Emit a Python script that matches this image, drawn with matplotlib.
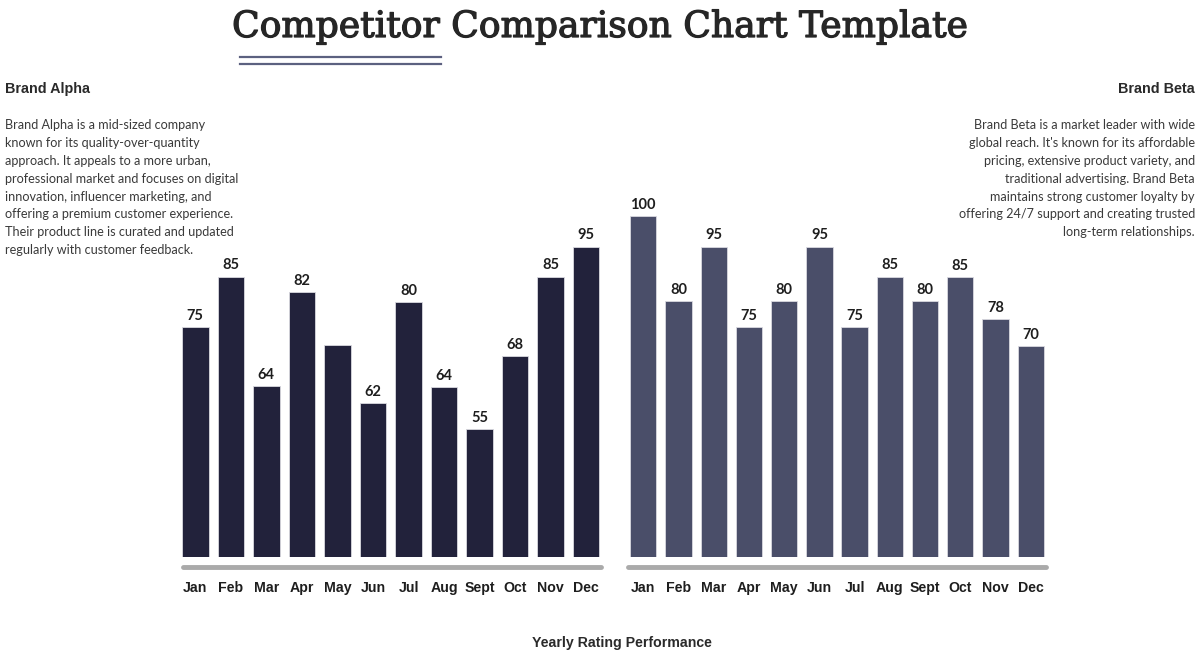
import matplotlib
matplotlib.use("Agg")
import matplotlib.pyplot as plt
import matplotlib.patheffects as pe

months = ["Jan", "Feb", "Mar", "Apr", "May", "Jun", "Jul", "Aug", "Sept", "Oct", "Nov", "Dec"]

# bar heights (tallest bar = 100)
alpha_bars = [67.3, 82.2, 50.1, 77.6, 62.1, 45.0, 74.8, 49.9, 37.4, 58.9, 82.2, 91.0]
beta_bars = [100.0, 75.0, 91.0, 67.3, 75.0, 91.0, 67.3, 82.2, 75.0, 82.0, 69.8, 61.9]

# numbers printed above the bars (May of Brand Alpha has none)
alpha_labels = [75, 85, 64, 82, None, 62, 80, 64, 55, 68, 85, 95]
beta_labels = [100, 80, 95, 75, 80, 95, 75, 85, 80, 85, 78, 70]

alpha_text = [
    "Brand Alpha is a mid-sized company",
    "known for its quality-over-quantity",
    "approach. It appeals to a more urban,",
    "professional market and focuses on digital",
    "innovation, influencer marketing, and",
    "offering a premium customer experience.",
    "Their product line is curated and updated",
    "regularly with customer feedback.",
]
beta_text = [
    "Brand Beta is a market leader with wide",
    "global reach. It's known for its affordable",
    "pricing, extensive product variety, and",
    "traditional advertising. Brand Beta",
    "maintains strong customer loyalty by",
    "offering 24/7 support and creating trusted",
    "long-term relationships.",
]

W, H = 1200, 657
fig = plt.figure(figsize=(W / 100, H / 100), dpi=100)
fig.patch.set_facecolor("white")

base_px = 556.7      # bar baseline (pixels from top)
px_per_unit = 3.407  # 100 units = 340.7 px
top_px = 150


def fx(px):
    return px / W


def fy(px):
    return 1 - px / H


def panel(left_px, right_px, first_c, last_c, bar_w_px, line_l, line_r,
          bars, labels, color):
    step = (last_c - first_c) / 11
    ax = fig.add_axes([fx(left_px), fy(base_px), (right_px - left_px) / W,
                       (base_px - top_px) / H])
    ax.set_xlim(-(first_c - left_px) / step, 11 + (right_px - last_c) / step)
    ax.set_ylim(0, (base_px - top_px) / px_per_unit)
    ax.axis("off")
    x = range(len(months))
    ax.bar(x, bars, width=bar_w_px / step, color=color,
           edgecolor="#d9d9e0", linewidth=0.6)
    for i, lab in enumerate(labels):
        if lab is None:
            continue
        ax.annotate(str(lab), (i, bars[i]), xytext=(0, 3),
                    textcoords="offset points", ha="center", va="bottom",
                    fontsize=10.5, fontweight="bold", family="Lato",
                    color="#1e1e1e")
    ax.plot([(line_l - first_c) / step, (line_r - first_c) / step],
            [-10 / px_per_unit] * 2, color="#aaaaaa", linewidth=3.5,
            solid_capstyle="round", clip_on=False)
    for i, m in enumerate(months):
        ax.text(i, -31 / px_per_unit, m, ha="center", va="center",
                fontsize=10.2, fontweight="bold", family="Liberation Sans",
                color="#1e1e1e", clip_on=False)
    return ax


panel(170, 610, 195.3, 586.2, 26.5, 183.3, 601, alpha_bars, alpha_labels, "#22223b")
panel(620, 1060, 643.2, 1030.8, 26.3, 628.3, 1046, beta_bars, beta_labels, "#4a4e69")

# title and double rule
fig.text(fx(600), fy(27), "Competitor Comparison Chart Template", ha="center",
         va="center", fontsize=26, family="DejaVu Serif", color="#262626",
         path_effects=[pe.withStroke(linewidth=0.9, foreground="#262626")])
for y in (57, 64):
    fig.add_artist(plt.Line2D([fx(240), fx(441)], [fy(y), fy(y)],
                              color="#5c6180", linewidth=1.6))

# brand headings and descriptions
fig.text(fx(5), fy(89), "Brand Alpha", ha="left", va="center", fontsize=10.4,
         fontweight="bold", family="Liberation Sans", color="#2a2a2a")
fig.text(fx(1195), fy(89), "Brand Beta", ha="right", va="center", fontsize=10.4,
         fontweight="bold", family="Liberation Sans", color="#2a2a2a")
for k, line in enumerate(alpha_text):
    fig.text(fx(5), fy(125 + 17.9 * k), line, ha="left", va="center",
             fontsize=9.1, family="Lato", color="#3a3a3a")
for k, line in enumerate(beta_text):
    fig.text(fx(1195), fy(125 + 17.9 * k), line, ha="right", va="center",
             fontsize=9.1, family="Lato", color="#3a3a3a")

fig.text(fx(622), fy(643), "Yearly Rating Performance", ha="center",
         va="center", fontsize=10.2, fontweight="bold", family="Liberation Sans",
         color="#2a2a2a")

fig.savefig("out.png", dpi=100)
